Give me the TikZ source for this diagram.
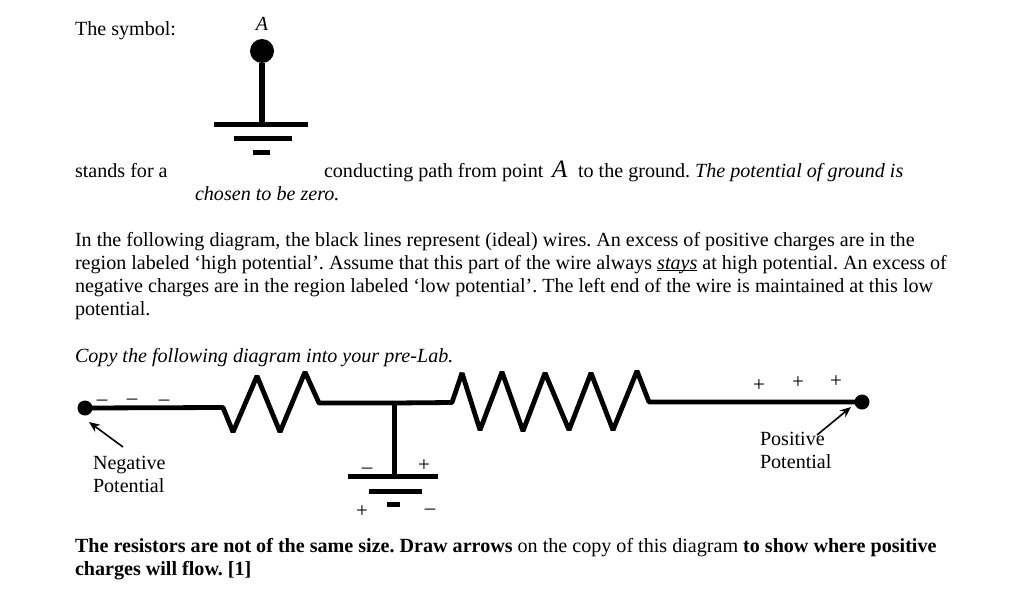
\documentclass[tikz,border=0pt]{standalone}
\usepackage{fontspec}
\setmainfont{Liberation Serif}
\usetikzlibrary{arrows.meta}
\newcommand\ustays{\setbox0\hbox{\textit{stays}}\rlap{\rule[-2pt]{\wd0}{0.9pt}}\box0 }
\tikzset{
  txt/.style={anchor=base west,inner sep=0pt,outer sep=0pt,font=\fontsize{20.1}{23}\selectfont\frenchspacing},
  sgn/.style={inner sep=0pt,outer sep=0pt,font=\fontsize{21}{20}\selectfont},
  wire/.style={line width=4.8pt,line join=bevel,black},
  bar/.style={line width=5pt},
  term/.style={circle,fill=black,inner sep=0pt,outer sep=0pt},
  pointer/.style={line width=1.6pt,-{Stealth[length=11pt,width=9pt]}}
}
\begin{document}
\begin{tikzpicture}[x=1pt,y=-1pt]
\useasboundingbox (0,0) rectangle (1024,594);
% text
\node[txt] (t1) at (75,36) {The symbol:};
\node[txt] (t2) at (75,177) {stands for a};
\node[txt] (t3) at (324,177) {conducting path from point};
\node[txt,font=\fontsize{25}{25}\selectfont\itshape] (t4) at (552,177) {A};
\node[txt] (t5) at (578,177) {to the ground. \textit{The potential of ground is}};
\node[txt] (t6) at (195,200) {\textit{chosen to be zero.}};
\node[txt] (t7) at (75,246) {In the following diagram, the black lines represent (ideal) wires. An excess of positive charges are in the};
\node[txt] (t8) at (75,269) {region labeled ‘high potential’. Assume that this part of the wire always \ustays{} at high potential. An excess of};
\node[txt] (t9) at (75,292) {negative charges are in the region labeled ‘low potential’. The left end of the wire is maintained at this low};
\node[txt] (t10) at (75,315) {potential.};
\node[txt] (t11) at (75,362) {\textit{Copy the following diagram into your pre-Lab.}};
\node[txt] (t12) at (75,552) {\textbf{The resistors are not of the same size. Draw arrows} on the copy of this diagram \textbf{to show where positive}};
\node[txt] (t13) at (75,575) {\textbf{charges will flow. [1]}};
% symbol
\node[sgn,font=\fontsize{20}{20}\selectfont\itshape] (A) at (262,24) {A};
\node[term,minimum size=24pt] (da) at (262,51) {};
\coordinate (ga) at (262,124);
\draw[line width=5.5pt] (da) -- (ga);
\coordinate (ga1) at (214,124); \coordinate (ga2) at (308,124);
\coordinate (gb1) at (234,138.5); \coordinate (gb2) at (292,138.5);
\coordinate (gc1) at (253,152.5); \coordinate (gc2) at (270,152.5);
\draw[bar] (ga1) -- (ga2);
\draw[bar] (gb1) -- (gb2);
\draw[bar] (gc1) -- (gc2);
% circuit
\node[term,minimum size=15pt] (L) at (85,408) {};
\node[term,minimum size=15pt] (R) at (862,402) {};
\coordinate (j) at (394,403);
\draw[wire] (L.center) -- (223,407.5) -- (233,432) -- (257,376) -- (280,432) -- (305,372) -- (319,403) -- (j)
  -- (452,402.5) -- (462,373) -- (480,430) -- (502,372) -- (523,431) -- (545,373) -- (569,430) -- (591,373) -- (613,430) -- (637,371) -- (649,402) -- (R.center);
\coordinate (g) at (394,476);
\draw[line width=5pt] (j) -- (g);
\coordinate (b1) at (348,476); \coordinate (b2) at (438,476);
\coordinate (c1) at (369,491); \coordinate (c2) at (422,491);
\coordinate (e1) at (387,504); \coordinate (e2) at (400,504);
\draw[bar] (b1) -- (b2);
\draw[bar] (c1) -- (c2);
\draw[bar] (e1) -- (e2);
% labels
\node[txt] (n1) at (93,469) {Negative};
\node[txt] (n2) at (93,492) {Potential};
\node[txt] (p1) at (760,445) {Positive};
\node[txt] (p2) at (760,468) {Potential};
\coordinate (nf) at (123,447); \coordinate (nt) at (89,422);
\coordinate (pf) at (817,435); \coordinate (pt) at (851,407);
\draw[pointer] (nf) -- (nt);
\draw[pointer] (pf) -- (pt);
% signs
\node[sgn] (m1) at (102,403) {–};
\node[sgn] (m2) at (132,401.5) {–};
\node[sgn] (m3) at (164,402.5) {–};
\node[sgn] (m4) at (367,471) {–};
\node[sgn] (s1) at (424,466) {+};
\node[sgn] (s2) at (362,511.5) {+};
\node[sgn] (m5) at (430,511.5) {–};
\node[sgn] (s3) at (759,385.5) {+};
\node[sgn] (s4) at (798,382.5) {+};
\node[sgn] (s5) at (836,381.5) {+};
\end{tikzpicture}
\end{document}
